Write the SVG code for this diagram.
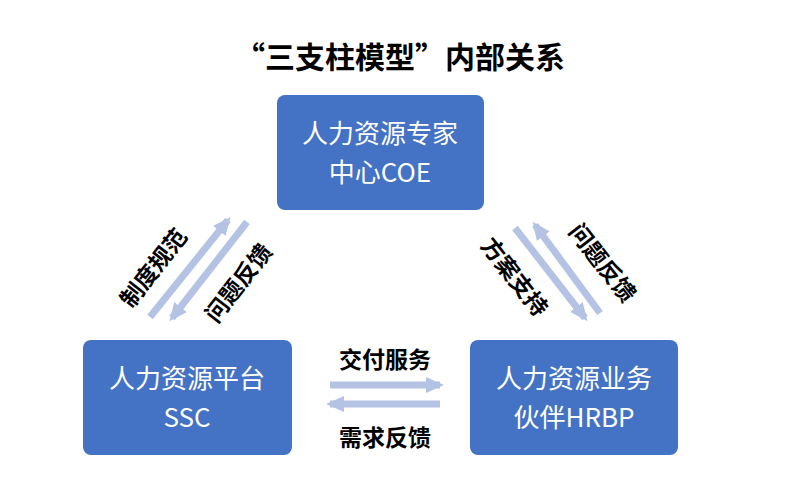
<svg xmlns="http://www.w3.org/2000/svg" width="785" height="499" viewBox="0 0 785 499">
<style>
.box{fill:#4472C4;}
.bt{fill:#fff;font-family:"Noto Sans CJK SC","Noto Sans",sans-serif;font-size:26px;text-anchor:middle;}
.lb{fill:#000;font-family:"Noto Sans CJK SC",sans-serif;font-size:23px;font-weight:bold;text-anchor:middle;}
.ar{stroke:#B4C3E3;stroke-width:7;fill:none;marker-end:url(#ah);}
</style>
<defs><marker id="ah" markerUnits="userSpaceOnUse" markerWidth="20" markerHeight="20" refX="14" refY="10" orient="auto"><path d="M0,2 L18,10 L0,18 Z" fill="#B4C3E3"/></marker></defs>
<rect width="785" height="499" fill="#fff"/>
<text x="400" y="68" style="font-family:'Noto Sans CJK SC',sans-serif;font-size:30px;font-weight:bold;text-anchor:middle">“三支柱模型”内部关系</text>
<g id="coe"><rect class="box" x="277" y="95" width="207" height="115" rx="8"/><text class="bt" x="380" y="143">人力资源专家</text><text class="bt" x="380" y="182">中心COE</text></g>
<g id="ssc"><rect class="box" x="83" y="340" width="209" height="115" rx="8"/><text class="bt" x="187" y="388">人力资源平台</text><text class="bt" x="187" y="427">SSC</text></g>
<g id="hrbp"><rect class="box" x="470" y="340" width="208" height="115" rx="8"/><text class="bt" x="574" y="388">人力资源业务</text><text class="bt" x="574" y="427">伙伴HRBP</text></g>
<g id="connectors">
<line class="ar" x1="150" y1="317" x2="228" y2="220"/>
<line class="ar" x1="247" y1="222" x2="172" y2="318"/>
<line class="ar" x1="515" y1="228" x2="585" y2="318"/>
<line class="ar" x1="600" y1="313" x2="535" y2="225"/>
<line class="ar" x1="330" y1="385" x2="440" y2="385"/>
<line class="ar" x1="440" y1="404" x2="330" y2="404"/>
</g>
<text class="lb" transform="translate(160,273) rotate(-52)">制度规范</text>
<text class="lb" transform="translate(245,288) rotate(-52)">问题反馈</text>
<text class="lb" transform="translate(508,282) rotate(52)">方案支持</text>
<text class="lb" transform="translate(596,268) rotate(52)">问题反馈</text>
<text class="lb" x="385" y="368">交付服务</text>
<text class="lb" x="385" y="446">需求反馈</text>
</svg>
